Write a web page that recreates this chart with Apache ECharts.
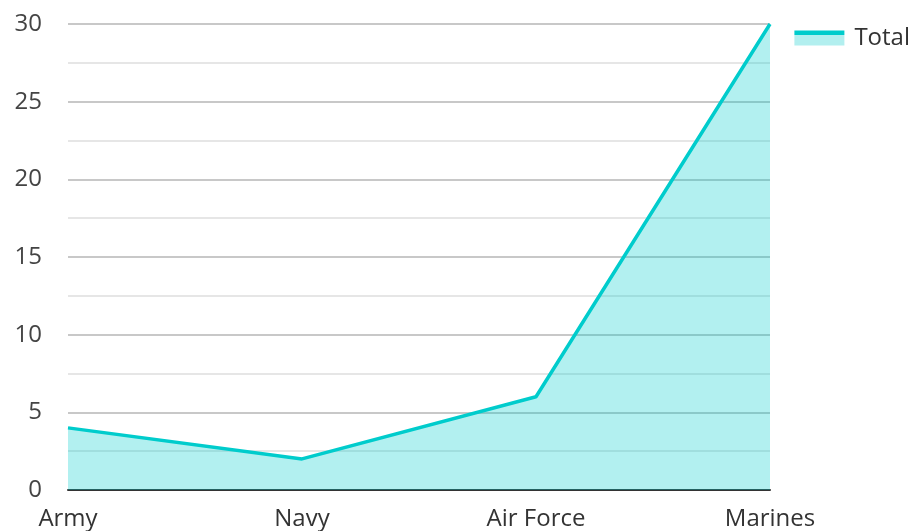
<!DOCTYPE html>
<html><head><meta charset="utf-8">
<script src="https://cdn.jsdelivr.net/npm/echarts@6/dist/echarts.min.js"></script>
<style>html,body{margin:0;padding:0;background:#fff}#c{width:911px;height:531px}</style>
</head><body><div id="c"></div>
<script>
const categories = ["Army", "Navy", "Air Force", "Marines"];
const totalValues = [4, 2, 6, 30];
const seriesName = "Total";

const chart = echarts.init(document.getElementById('c'));
const font = '"Open Sans", sans-serif';
chart.setOption({
  animation: false,
  textStyle: { fontFamily: font },
  grid: { left: 68, right: 141, top: 24, bottom: 41 },
  legend: {
    right: 1, top: 26, padding: 0,
    itemWidth: 50, itemHeight: 15, itemGap: 10,
    icon: 'rect',
    textStyle: { fontSize: 24, color: '#333', fontFamily: font, padding: [0, 0, 0, 5] },
    data: [{
      name: seriesName,
      itemStyle: {
        color: { type: 'linear', x: 0, y: 0, x2: 0, y2: 1,
          colorStops: [
            { offset: 0, color: '#00cccc' }, { offset: 0.27, color: '#00cccc' },
            { offset: 0.27, color: '#b2efef' }, { offset: 1, color: '#b2efef' }
          ] }
      }
    }]
  },
  xAxis: {
    type: 'category', data: categories, boundaryGap: false,
    axisLine: { lineStyle: { color: '#333', width: 2 } },
    axisTick: { show: false },
    axisLabel: { fontSize: 24, color: '#333', margin: 17, fontFamily: font }
  },
  yAxis: {
    type: 'value', min: 0, max: 30, interval: 5,
    axisLine: { show: false }, axisTick: { show: false },
    axisLabel: { fontSize: 24, color: '#444', margin: 26, fontFamily: font },
    splitLine: { lineStyle: { color: '#c8c8c8', width: 2 } },
    minorTick: { show: false, splitNumber: 2 },
    minorSplitLine: { show: true, lineStyle: { color: '#e6e6e6', width: 2 } }
  },
  series: [{
    name: seriesName, type: 'line', data: totalValues,
    symbol: 'none',
    lineStyle: { color: '#00cccc', width: 3.5 },
    itemStyle: { color: '#00cccc' },
    areaStyle: { color: '#00cccc', opacity: 0.3 }
  }]
});
</script></body></html>
